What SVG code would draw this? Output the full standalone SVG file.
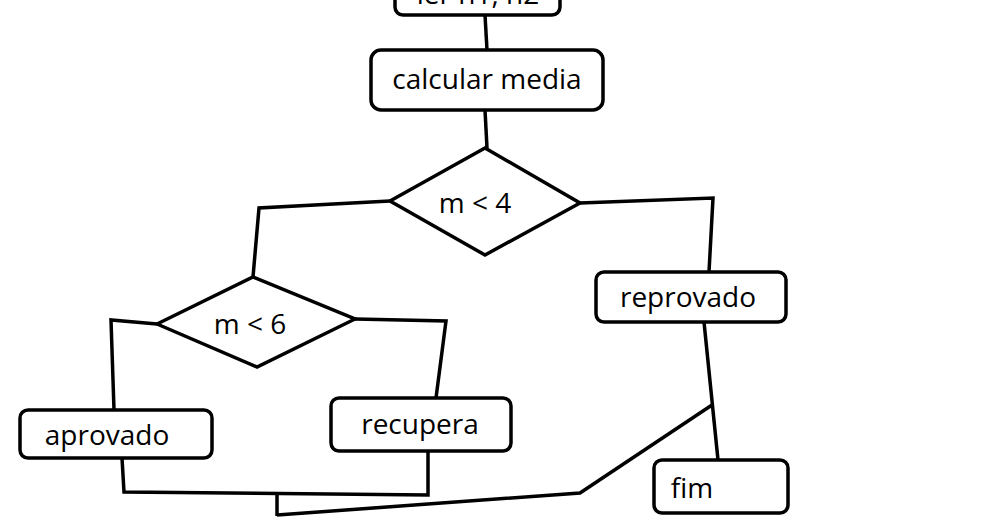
<svg xmlns="http://www.w3.org/2000/svg" width="1000" height="525" viewBox="0 0 1000 525">
<style>
.b{fill:#fff;stroke:#000;stroke-width:3.5}
.t{font-family:"Open Sans","DejaVu Sans",sans-serif;font-size:28px;fill:#000}
.c{fill:none;stroke:#000;stroke-width:3.5}
</style>
<rect width="1000" height="525" fill="#fff"/>
<g id="connectors">
<path class="c" d="M485 15 L487 50"/>
<path class="c" d="M485 110 L487 148"/>
<path class="c" d="M390 201 L259 208 L253 277"/>
<path class="c" d="M580 203 L713 198 L709 272"/>
<path class="c" d="M157 324 L111 320 L114 410"/>
<path class="c" d="M355 319 L446 321 L436 398"/>
<path class="c" d="M122 458 L124 492 L428 495 L428 452"/>
<path class="c" d="M704 322 L718 460"/>
<path class="c" d="M712 405 L580 493 L277 515"/>
<path class="c" d="M277 494 L277 516"/>
</g>
<g id="n-ler"><rect class="b" x="395" y="-30" width="165" height="45" rx="8"/><text class="t" x="478" y="4" text-anchor="middle">ler n1, n2</text></g>
<g id="n-calc"><rect class="b" x="371" y="50" width="232" height="60" rx="10"/><text class="t" x="487" y="89" text-anchor="middle">calcular media</text></g>
<g id="n-m4"><polygon class="b" points="390,201 485,148 580,203 485,255"/><text class="t" x="475" y="213" text-anchor="middle">m &lt; 4</text></g>
<g id="n-m6"><polygon class="b" points="157,324 253,277 355,319 257,367"/><text class="t" x="250" y="334" text-anchor="middle">m &lt; 6</text></g>
<g id="n-reprov"><rect class="b" x="596" y="272" width="190" height="50" rx="8"/><text class="t" x="688" y="307" text-anchor="middle">reprovado</text></g>
<g id="n-aprov"><rect class="b" x="20" y="410" width="192" height="48" rx="8"/><text class="t" x="107" y="445" text-anchor="middle">aprovado</text></g>
<g id="n-recup"><rect class="b" x="331" y="398" width="180" height="53" rx="8"/><text class="t" x="420" y="434" text-anchor="middle">recupera</text></g>
<g id="n-fim"><rect class="b" x="654" y="460" width="134" height="53" rx="8"/><text class="t" x="692" y="498" text-anchor="middle">fim</text></g>
</svg>
